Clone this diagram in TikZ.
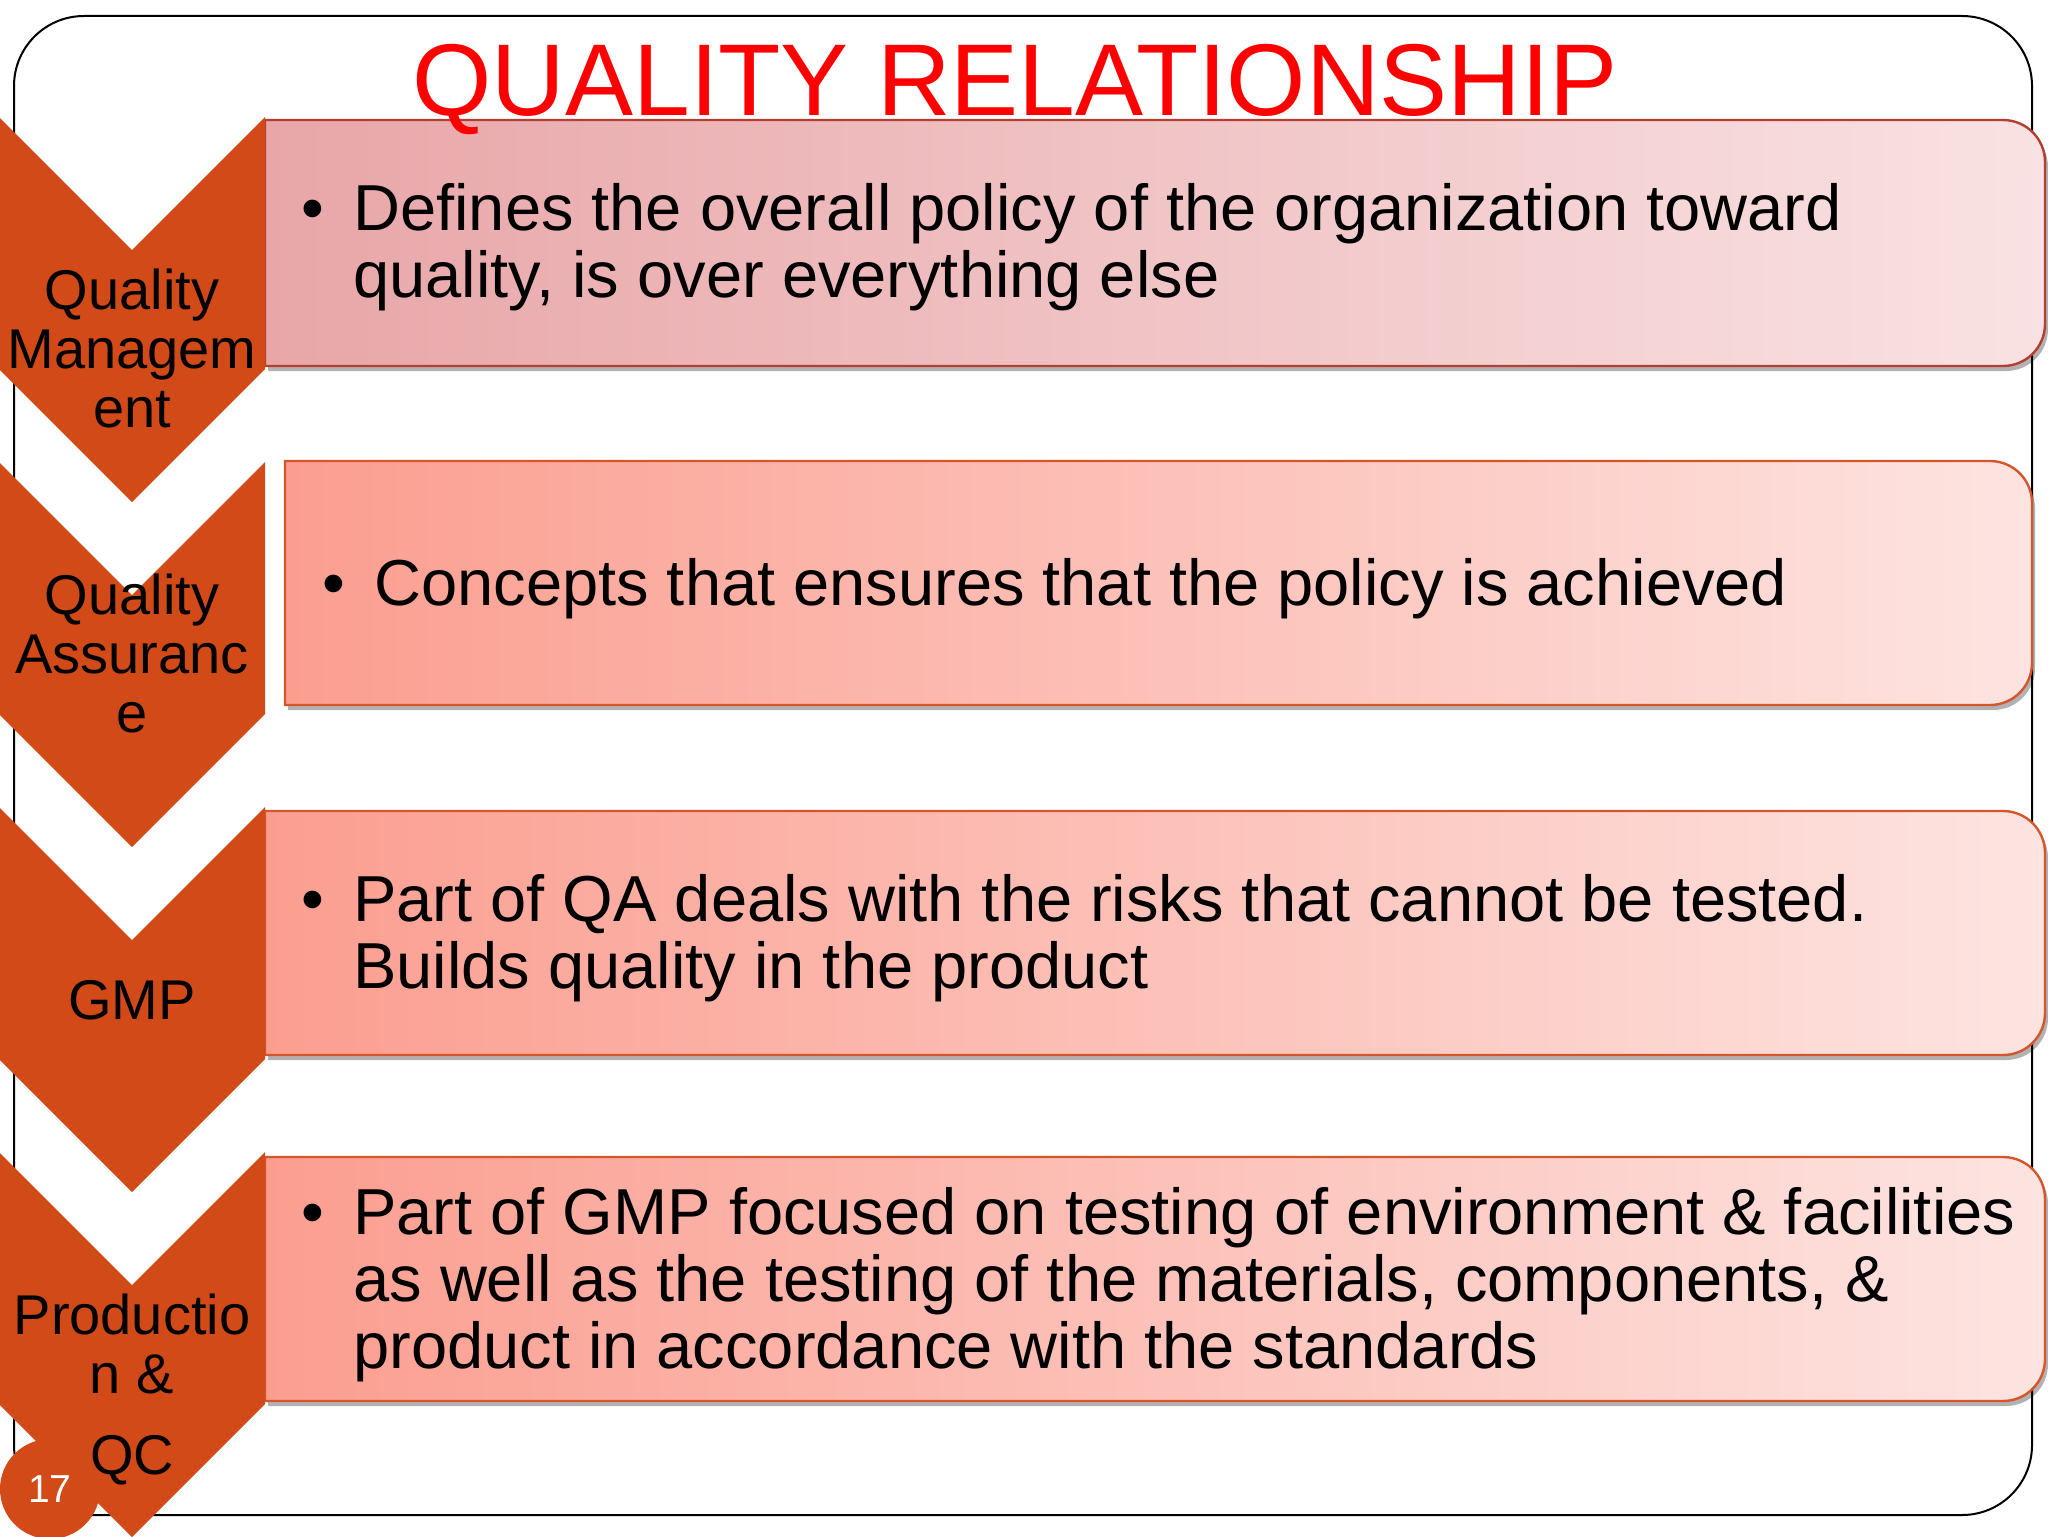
\documentclass[tikz,border=0pt]{standalone}
\usepackage{fontspec}
\setmainfont{Liberation Sans}
\usetikzlibrary{shadows}

\definecolor{chevorange}{RGB}{209,74,24}
\definecolor{qmleft}{RGB}{232,166,168}
\definecolor{qmright}{RGB}{249,226,227}
\definecolor{qmborder}{RGB}{180,62,50}
\definecolor{boxleft}{RGB}{251,158,144}
\definecolor{boxright}{RGB}{253,228,225}
\definecolor{boxborder}{RGB}{214,86,44}

\newcommand{\chevtext}[1]{\parbox[t]{150pt}{\centering #1}}
\newcommand{\bullettext}[1]{\parbox[t]{950pt}{\hangindent=26pt\hangafter=1\noindent\makebox[26pt][l]{\textbullet}#1}}

\begin{document}
\begin{tikzpicture}[x=0.5pt, y=-0.5pt,
    boxshadow/.style={drop shadow={shadow xshift=1.5pt, shadow yshift=-2.5pt, opacity=0.3, fill=black}},
    qmbox/.style={draw=qmborder, line width=1.2pt, left color=qmleft, right color=qmright, boxshadow},
    infobox/.style={draw=boxborder, line width=1.2pt, left color=boxleft, right color=boxright, boxshadow}]
    \useasboundingbox (0,0) rectangle (2048,1536);
    % slide frame
    \draw[line width=1pt, rounded corners=35pt] (14,16) rectangle (2032,1515);
    % text boxes
    \draw[qmbox] (265,120) -- (1000,120) [rounded corners=21pt] -- (2045,120) -- (2045,366) -- (1000,366) [sharp corners] -- (265,366) -- cycle;
    \draw[infobox] (285,461) -- (1000,461) [rounded corners=21pt] -- (2032,461) -- (2032,705) -- (1000,705) [sharp corners] -- (285,705) -- cycle;
    \draw[infobox] (265,811) -- (1000,811) [rounded corners=21pt] -- (2045,811) -- (2045,1055) -- (1000,1055) [sharp corners] -- (265,1055) -- cycle;
    \draw[infobox] (265,1157) -- (1000,1157) [rounded corners=21pt] -- (2045,1157) -- (2045,1401) -- (1000,1401) [sharp corners] -- (265,1401) -- cycle;
    % chevrons
    \foreach \t in {117,462,807,1152}
        \fill[chevorange] (-1,\t) -- ++(133,133) -- ++(133,-133) -- ++(0,252) -- ++(-133,133) -- ++(-133,-133) -- cycle;
    \node[circle, fill=chevorange, minimum size=50pt, inner sep=0pt, text=white, font=\fontsize{19.5}{22}\selectfont] (pagenum) at (50,1489) {17};
    \begin{scope}[every node/.style={anchor=base, inner sep=0pt, font=\fontsize{28}{29.5}\selectfont}]
        \node (qm) at (132,309) {\chevtext{Quality\\Managem\\ent}};
        \node (qa) at (132,614) {\chevtext{Quality\\Assuranc\\e}};
        \node (gmp) at (132,1019) {\chevtext{GMP}};
        \node (qc) at (132,1334) {\chevtext{Productio\\n \&\\[11pt]QC}};
    \end{scope}
    \begin{scope}[every node/.style={anchor=base west, inner sep=0pt, font=\fontsize{32.5}{33.5}\selectfont}]
        \node (qmtext) at (301,230) {\bullettext{Defines the overall policy of the organization toward\\quality, is over everything else}};
        \node (qatext) at (322,605) {\bullettext{Concepts that ensures that the policy is achieved}};
        \node (gmptext) at (301,921) {\bullettext{Part of QA deals with the risks that cannot be tested.\\Builds quality in the product}};
        \node (qctext) at (301,1234) {\bullettext{Part of GMP focused on testing of environment \& facilities\\as well as the testing of the materials, components, \&\\product in accordance with the standards}};
    \end{scope}
    \node[anchor=base, inner sep=0pt, text=red, font=\fontsize{51}{60}\selectfont] (title) at (1015,115) {QUALITY RELATIONSHIP};
\end{tikzpicture}
\end{document}
